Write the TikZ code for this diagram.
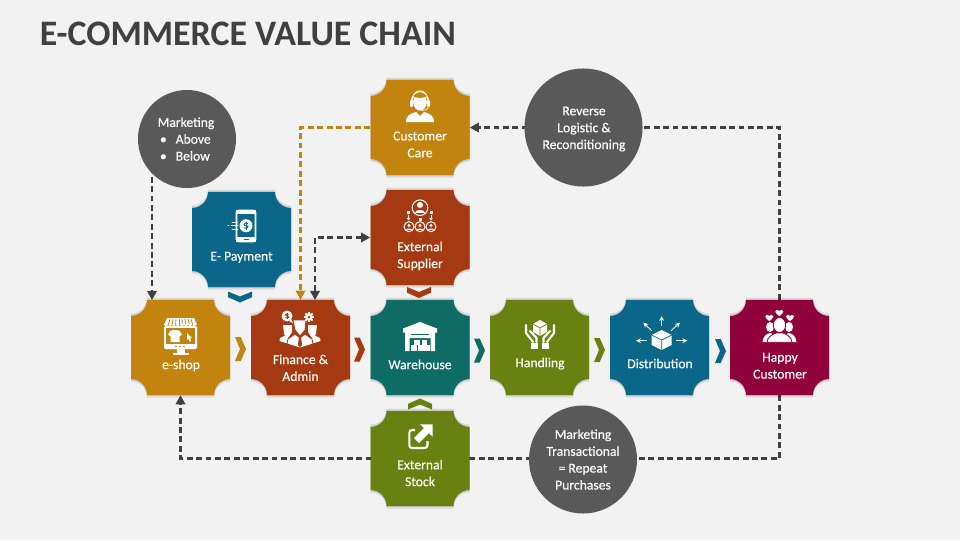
\documentclass[tikz,border=0pt]{standalone}
\usepackage{fontspec}
\setmainfont{Carlito}
\newfontfamily\labelfont[FakeBold=0.25]{Carlito}
\usetikzlibrary{arrows.meta,backgrounds}

\definecolor{pagebg}{HTML}{F2F2F2}
\definecolor{darkgrey}{HTML}{404040}
\definecolor{circgrey}{HTML}{595959}
\definecolor{ochre}{HTML}{C2840F}
\definecolor{rust}{HTML}{A53A12}
\definecolor{teal}{HTML}{0E6B66}
\definecolor{moss}{HTML}{688110}
\definecolor{petrol}{HTML}{0B678A}
\definecolor{wine}{HTML}{90003A}

\tikzset{
  tilebox/.style={rectangle, minimum width=2.475cm, minimum height=2.375cm, inner sep=0pt},
  tilelabel/.style={text=white, align=center, inner sep=0pt, font=\fontsize{9.7}{12}\labelfont},
  bubble/.style={circle, fill=circgrey, text=white, align=center, inner sep=0pt, font=\fontsize{9.7}{12}\labelfont},
  flowline/.style={draw=darkgrey, line width=1.45pt, dash pattern=on 4.2pt off 2.5pt},
  flowtip/.style={-{Triangle[length=6.5pt,width=6.8pt]}},
  iconline/.style={draw=white, line width=.9pt, line cap=round, line join=round},
  pics/chevron/.style={code={\fill[#1] (-5.5,-12) -- (0.2,-12) -- (5.5,0) -- (0.2,12) -- (-5.5,12) -- (-0.5,0) -- cycle;}},
  pics/dollarmark/.style={code={
    \draw[#1, line width=.7pt] (2,-2) .. controls (0.5,-3.2) and (-2,-2.8) .. (-2,-1.2) .. controls (-2,0.5) and (2,-0.5) .. (2,1.2) .. controls (2,2.8) and (-0.5,3.2) .. (-2,2);
    \draw[#1, line width=.5pt] (0,-4) -- (0,4);}},
  pics/heart/.style={code={\fill[white] (0,3.6) .. controls (-2,2) and (-4,0.6) .. (-4,-1) .. controls (-4,-3) and (-1,-3.6) .. (0,-1.5) .. controls (1,-3.6) and (4,-3) .. (4,-1) .. controls (4,0.6) and (2,2) .. (0,3.6) -- cycle;}},
}

\newcommand{\tilepath}{(-33.5,-47.5) -- (33.5,-47.5) .. controls (33.5,-38.7) and (40.7,-31.5) .. (49.5,-31.5) -- (49.5,31.5) .. controls (40.7,31.5) and (33.5,38.7) .. (33.5,47.5) -- (-33.5,47.5) .. controls (-33.5,38.7) and (-40.7,31.5) .. (-49.5,31.5) -- (-49.5,-31.5) .. controls (-40.7,-31.5) and (-33.5,-38.7) .. (-33.5,-47.5) -- cycle}
\newcommand{\tile}[3]{
  \begin{scope}[shift={(#2)}]
    \foreach \s in {-2.5,-1.2,1.2,2.5} {\fill[black, opacity=.09, shift={(0,\s)}] \tilepath;}
    \fill[#3] \tilepath;
  \end{scope}
  \node[tilebox] (#1) at (#2) {};
}

\begin{document}
\begin{tikzpicture}[x=0.025cm, y=-0.025cm]
\useasboundingbox (0,0) rectangle (960,540);
\begin{scope}[on background layer]
  \fill[pagebg] (0,0) rectangle (960,540);
\end{scope}

\node[anchor=west, inner sep=0pt, text=darkgrey, font=\fontsize{25.5}{30}\selectfont\bfseries] (title) at (39.5,34) {E-COMMERCE VALUE CHAIN};

\tile{eshop}{180.5,347.5}{ochre}
\tile{finance}{300.5,347.5}{rust}
\tile{warehouse}{420,347.5}{teal}
\tile{handling}{539.5,347.5}{moss}
\tile{distribution}{659.5,347.5}{petrol}
\tile{happy}{779.5,347.5}{wine}
\tile{payment}{241.5,239.5}{petrol}
\tile{care}{420,127.5}{ochre}
\tile{supplier}{420,237.5}{rust}
\tile{stock}{420,458.5}{moss}

\node[tilelabel] (eshoptext) at (181,365.5) {e-shop};
\node[tilelabel] (financetext) at (300.5,367.8) {Finance \&\\Admin};
\node[tilelabel] (warehousetext) at (420,364.5) {Warehouse};
\node[tilelabel] (handlingtext) at (540,363.6) {Handling};
\node[tilelabel] (distributiontext) at (660,363.5) {Distribution};
\node[tilelabel] (happytext) at (780,365.8) {Happy\\Customer};
\node[tilelabel] (paymenttext) at (241.5,257.3) {E- Payment};
\node[tilelabel] (caretext) at (420,144.5) {Customer\\Care};
\node[tilelabel] (suppliertext) at (420,256) {External\\Supplier};
\node[tilelabel] (stocktext) at (420,473) {External\\Stock};

\node[bubble, minimum size=2.45cm] (marketing) at (187,139) {};
\node[tilelabel, align=left] (marketingtext) at (186,139) {Marketing\\\makebox[12.8pt][l]{\,\textbullet}Above\\\makebox[12.8pt][l]{\,\textbullet}Below};
\node[bubble, minimum size=2.95cm] (reverse) at (583.5,127.5) {};
\node[tilelabel] (reversetext) at (584,129) {Reverse\\Logistic \&\\Reconditioning};
\node[bubble, minimum size=2.7cm] (repeat) at (583,459.5) {Marketing\\Transactional\\= Repeat\\Purchases};

\coordinate (eshopin) at (152,300);
\coordinate (financeport) at (315,300);
\begin{scope}[on background layer]
  \draw[flowline,flowtip] (eshopin |- marketing) -- (eshopin);
  \draw[flowline,flowtip,draw=ochre] (care.west) -| (finance.north);
  \draw[flowline,{Triangle[length=6.5pt,width=6.8pt]}-{Triangle[length=6.5pt,width=6.8pt]}] (supplier.west) -| (financeport);
  \draw[flowline,flowtip] (happy.north) |- (care.east);
  \draw[flowline,flowtip] (happy.south) |- (stock.center) -| (eshop.south);
\end{scope}

\pic at (240.5,349) {chevron=ochre};
\pic at (359.5,349.5) {chevron=rust};
\pic at (479.5,350.5) {chevron=teal};
\pic at (599.5,350) {chevron=moss};
\pic at (720.5,351) {chevron=petrol};
\pic[rotate=-90] at (240,297) {chevron=petrol};
\pic[rotate=-90] at (419,292.5) {chevron=rust};
\pic[rotate=90] at (420,404) {chevron=moss};

% shop
\fill[white, rounded corners=1pt] (164,326) rectangle (197,349);
\fill[ochre] (166,328) rectangle (195,344);
\fill[white] (167,318) -- (194,318) -- (197,325) -- (164,325) -- cycle;
\foreach \a/\b in {170/168,173/172,176/175.5,179/179,182/182.5,185/186,188/190,191/193} {\draw[ochre, line width=.6pt] (\a,319) -- (\b,326);}
\foreach \c in {166,170,174,178,182,186,190,194} {\fill[white] (\c,325) circle[radius=1.7];}
\fill[white] (170,331) -- (173,330) -- (177,330) -- (180,331) -- (182,335) -- (179.5,336) -- (179.5,342) -- (170.5,342) -- (170.5,336) -- (168,335) -- cycle;
\fill[white] (187,333) -- (192,338) -- (190,338.5) -- (191,341) -- (189.5,341.5) -- (188.5,339) -- (187,340) -- cycle;
\fill[white] (177,349) rectangle (185,353);
\fill[white] (173,353) rectangle (189,355);
\foreach \c in {176,180,184} {\fill[ochre] (\c,346.5) circle[radius=.8];}

% finance
\fill[white] (283,325) -- (292,325) -- (292,332) -- (288,338) -- (284,334) -- cycle;
\fill[white] (279.5,341) -- (280,338) -- (286,335) -- (289,339) -- (289,344) -- cycle;
\fill[white] (308,325) -- (317,325) -- (316,334) -- (312,338) -- (308,332) -- cycle;
\fill[white] (320.5,341) -- (320,338) -- (314,335) -- (311,339) -- (311,344) -- cycle;
\fill[white, draw=rust, line width=.6pt] (293,320) -- (306,320) -- (305,330) -- (300,336) -- (295,330) -- cycle;
\fill[white, draw=rust, line width=.6pt] (287,344) -- (288,339) -- (295,334) -- (300,338) -- (305,334) -- (312,339) -- (313,344) -- (300,348) -- cycle;
\fill[rust] (299,337) -- (301,337) -- (302,345) -- (300,347) -- (298,345) -- cycle;
\fill[white] (287,316) circle[radius=5.5];
\fill[white] (289,321) -- (293,323) -- (291,319) -- cycle;
\pic[scale=.8] at (287,316) {dollarmark=rust};
\fill[white] (309,317) circle[radius=3.8];
\foreach \r in {0,45,...,315} {\fill[white, shift={(309,317)}, rotate=\r] (-1,-3) rectangle (1,-5);}
\fill[rust] (309,317) circle[radius=1.5];

% payment
\draw[white, line width=1.1pt, rounded corners=1.5pt] (236.5,210.5) rectangle (255.5,241.5);
\fill[white] (236,210) rectangle (256,214);
\fill[white] (236,236.5) rectangle (256,242);
\fill[petrol] (243.5,238.5) rectangle (248.5,240);
\fill[white] (246,225.7) circle[radius=6.5];
\pic at (246,225.7) {dollarmark=petrol};
\draw[iconline, line width=.6pt] (232,222.5) -- (238,222.5) (228,225.7) -- (229,225.7) (231,225.7) -- (238,225.7) (232,229) -- (238,229);

% headset
\draw[white, line width=1.1pt] (411.5,104) .. controls (411.5,87) and (428.5,87) .. (428.5,104);
\fill[white] (420,102) ellipse[x radius=6.8, y radius=8.6];
\fill[ochre] (413,96) .. controls (416,98.5) and (424,98.5) .. (427,96) .. controls (424,92) and (416,92) .. (413,96) -- cycle;
\fill[white, rounded corners=.8pt] (410,100) rectangle (413,107);
\fill[white, rounded corners=.8pt] (427,100) rectangle (430,107);
\draw[white, line width=.5pt] (428.5,106) .. controls (428,110) and (425,110.5) .. (422,110.5);
\fill[white] (406,122) .. controls (406,115) and (411,113.5) .. (416,112) -- (420,116) -- (424,112) .. controls (429,113.5) and (434,115) .. (434,122) -- cycle;

% supplier network
\draw[white, line width=.7pt] (420,207.7) circle[radius=7.8];
\fill[white] (420,205) circle[radius=3];
\fill[white] (415,213) .. controls (415,209) and (425,209) .. (425,213) -- cycle;
\foreach \c in {409,420,431} {
  \draw[white, line width=.7pt] (\c,226.7) circle[radius=5];
  \fill[white] (\c,225.5) circle[radius=1.7];
  \fill[white] (\c-3,230) .. controls (\c-3,227.5) and (\c+3,227.5) .. (\c+3,230) -- cycle;
}
\foreach \c/\e in {408.5/212,431/212,420/219} {\fill[white] (\c-1.5,\e-1.5) rectangle (\c+1.5,\e+1.5);}
\draw[white, line width=.5pt, -{Triangle[length=1.8pt,width=2.4pt]}] (408.5,214.5) -- (408.5,220.5);
\draw[white, line width=.5pt, -{Triangle[length=1.8pt,width=2.4pt]}] (431,214.5) -- (431,220.5);

% warehouse
\fill[white] (403,328.5) -- (420,322) -- (437,328.5) -- (437,332.5) -- (435,332.5) -- (435,351) -- (430.5,351) -- (430.5,338) -- (409.5,338) -- (409.5,351) -- (405,351) -- (405,332.5) -- (403,332.5) -- cycle;
\fill[teal] (411,333.5) rectangle (429,335);
\foreach \c/\e in {411/345.3,417.7/345.3,424.4/345.3} {\fill[white] (\c,\e) rectangle (\c+5.8,351);}
\foreach \c in {414,421.5} {\fill[white] (\c,339.5) rectangle (\c+5.8,344.5);}

% handling
\fill[white] (540,320) -- (547,324) -- (547,332) -- (540,336) -- (533,332) -- (533,324) -- cycle;
\draw[moss, line width=.5pt] (533,324) -- (540,328) -- (547,324) (540,328) -- (540,336);
\draw[iconline, line width=1.5pt] (526,325) -- (526,333) -- (533,342) (530,331) -- (536.5,338) -- (536.5,342);
\draw[iconline, line width=1.5pt] (554,325) -- (554,333) -- (547,342) (550,331) -- (543.5,338) -- (543.5,342);
\fill[white] (531,343) rectangle (538,349);
\fill[white] (542,343) rectangle (549,349);

% distribution
\fill[white] (661.7,330) -- (671.7,335) -- (671.7,345) -- (661.7,350) -- (651.7,345) -- (651.7,335) -- cycle;
\draw[petrol, line width=.5pt] (651.7,335) -- (661.7,340) -- (671.7,335) (661.7,340) -- (661.7,350);
\draw[white, line width=.6pt, -{Stealth[length=3.5pt,width=3.5pt]}] (661.7,326) -- (661.7,316);
\draw[white, line width=.6pt, -{Stealth[length=3.5pt,width=3.5pt]}] (651.7,330.7) -- (643.3,322.7);
\draw[white, line width=.6pt, -{Stealth[length=3.5pt,width=3.5pt]}] (671,330.7) -- (680,322.7);
\draw[white, line width=.6pt, -{Stealth[length=3.5pt,width=3.5pt]}] (647.3,340.7) -- (636,340.7);
\draw[white, line width=.6pt, -{Stealth[length=3.5pt,width=3.5pt]}] (676,340.7) -- (687.3,340.7);

% happy people
\pic at (779.3,312.5) {heart};
\pic at (769.3,317.5) {heart};
\pic at (790,317.5) {heart};
\fill[white] (770,327) ellipse[x radius=4, y radius=5];
\fill[white] (789,327) ellipse[x radius=4, y radius=5];
\fill[white] (762.5,342) .. controls (763,336) and (767,333) .. (771,333) -- (778,342) -- cycle;
\fill[white] (796.5,342) .. controls (796,336) and (792,333) .. (788,333) -- (781,342) -- cycle;
\fill[white, draw=wine, line width=.6pt] (779.5,325) ellipse[x radius=6.2, y radius=7.5];
\fill[white, draw=wine, line width=.6pt] (767,342.3) .. controls (767,337) and (773,334) .. (776,333) -- (783,333) .. controls (786,334) and (792,337) .. (792,342.3) -- cycle;

% stock arrow
\draw[white, line width=1.5pt, rounded corners=2pt] (415,430) -- (409.3,430) -- (409.3,448) -- (427.5,448) -- (427.5,441);
\fill[white] (420,424.3) -- (432.7,424.3) -- (432.7,436.7) -- (429,433) -- (419,443) -- (414,438) -- (424,428) -- cycle;
\end{tikzpicture}
\end{document}
